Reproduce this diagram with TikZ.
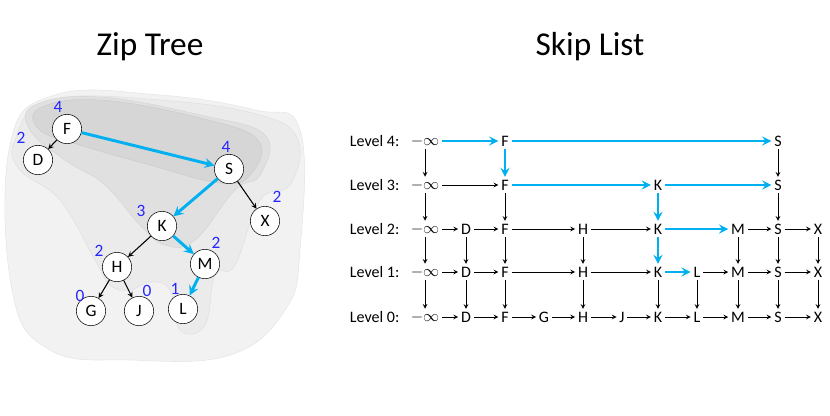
\documentclass[tikz,border=0pt]{standalone}
\usepackage{fontspec}
\setmainfont{Carlito}
\begin{document}
\begin{tikzpicture}[x=0.75pt,y=-0.75pt,
 tn/.style={circle,draw,fill=white,minimum size=22pt,inner sep=0pt,font=\fontsize{13}{13}\selectfont},
 rk/.style={text=blue!85!white,font=\fontsize{13}{13}\selectfont},
 ta/.style={->,>=stealth,thick},
 ba/.style={->,>=stealth,line width=2.2pt,draw={rgb,255:red,0;green,176;blue,240}},
 sl/.style={inner sep=1pt,font=\fontsize{12}{12}\selectfont},
 sa/.style={->,>=stealth,semithick,shorten >=1pt,shorten <=1pt},
 sb/.style={->,>=stealth,line width=2pt,draw={rgb,255:red,0;green,176;blue,240},shorten >=1pt,shorten <=1pt},
 lab/.style={anchor=east,font=\fontsize{12}{12}\selectfont}]
\useasboundingbox (0,0) rectangle (830,415);
\node at (150,47) {\fontsize{25}{25}\selectfont Zip Tree};
\node at (590,47) {\fontsize{25}{25}\selectfont Skip List};
% blobs
\fill[black!5,draw=black!10] plot[smooth cycle,tension=0.7] coordinates {(10,145) (55,95) (160,95) (255,110) (300,130) (300,250) (285,310) (230,355) (130,360) (50,350) (12,290)};
\fill[black!8,draw=black!12] plot[smooth cycle,tension=0.7] coordinates {(15,140) (50,100) (160,100) (260,115) (298,140) (290,185) (260,200) (235,265) (215,275) (205,325) (180,330) (170,290) (150,282) (130,290) (110,285) (95,260) (60,200) (20,170)};
\fill[black!12,draw=black!16] plot[smooth cycle,tension=0.7] coordinates {(35,105) (100,97) (200,115) (265,135) (260,175) (235,190) (195,240) (165,245) (140,225) (105,185) (65,160) (30,130)};
\fill[black!16,draw=black!20] plot[smooth cycle,tension=0.7] coordinates {(40,108) (100,100) (200,118) (258,140) (250,175) (220,183) (150,165) (80,145) (40,130)};
% tree
\node[tn] (F) at (67,129) {F}; \node[rk] at (58,107) {4};
\node[tn] (D) at (38,160) {D}; \node[rk] at (21,138) {2};
\node[tn] (S) at (229,169) {S}; \node[rk] at (226,147) {4};
\node[tn] (X) at (265,221) {X}; \node[rk] at (277,197) {2};
\node[tn] (K) at (162,226) {K}; \node[rk] at (141,211) {3};
\node[tn] (H) at (117,267) {H}; \node[rk] at (99,251) {2};
\node[tn] (M) at (205,264) {M}; \node[rk] at (216,243) {2};
\node[tn] (G) at (91,311) {G}; \node[rk] at (80,296) {0};
\node[tn] (J) at (139,311) {J}; \node[rk] at (147,291) {0};
\node[tn] (L) at (183,309) {L}; \node[rk] at (175,289) {1};
\draw[ta] (F)--(D); \draw[ta] (S)--(X); \draw[ta] (K)--(H);
\draw[ta] (H)--(G); \draw[ta] (H)--(J);
\draw[ba] (F)--(S); \draw[ba] (S)--(K); \draw[ba] (K)--(M); \draw[ba] (M)--(L);
% skip list
\foreach \n/\x in {a/425,D/466,F/505,G/544,H/583,J/622,K/658,L/697,M/738,S/778,X/818}{\coordinate (c\n) at (\x,0);}
\foreach \l/\y in {4/141,3/185,2/229,1/272,0/317}{\node[lab] at (404,\y) {Level \l:};}
\def\row#1#2#3{\node[sl] (#1a) at (ca |- 0,#2) {$-\infty$};\foreach \n in {#3}{\node[sl] (#1\n) at (c\n |- 0,#2) {\n};}}
\row{4}{141}{F,S}
\row{3}{185}{F,K,S}
\row{2}{229}{D,F,H,K,M,S,X}
\row{1}{272}{D,F,H,K,L,M,S,X}
\row{0}{317}{D,F,G,H,J,K,L,M,S,X}
% horizontals
\draw[sb] (4a)--(4F); \draw[sb] (4F)--(4S);
\draw[sa] (3a)--(3F); \draw[sb] (3F)--(3K); \draw[sb] (3K)--(3S);
\foreach \p/\q in {a/D,D/F,F/H,H/K,M/S,S/X}{\draw[sa] (2\p)--(2\q);}
\draw[sb] (2K)--(2M);
\foreach \p/\q in {a/D,D/F,F/H,H/K,L/M,M/S,S/X}{\draw[sa] (1\p)--(1\q);}
\draw[sb] (1K)--(1L);
\foreach \p/\q in {a/D,D/F,F/G,G/H,H/J,J/K,K/L,L/M,M/S,S/X}{\draw[sa] (0\p)--(0\q);}
% verticals
\draw[sa] (4a)--(3a); \draw[sb] (4F)--(3F); \draw[sa] (4S)--(3S);
\foreach \n in {a,F,S}{\draw[sa] (3\n)--(2\n);} \draw[sb] (3K)--(2K);
\foreach \n in {a,D,F,H,M,S,X}{\draw[sa] (2\n)--(1\n);} \draw[sb] (2K)--(1K);
\foreach \n in {a,D,F,H,K,L,M,S,X}{\draw[sa] (1\n)--(0\n);}
\end{tikzpicture}
\end{document}
